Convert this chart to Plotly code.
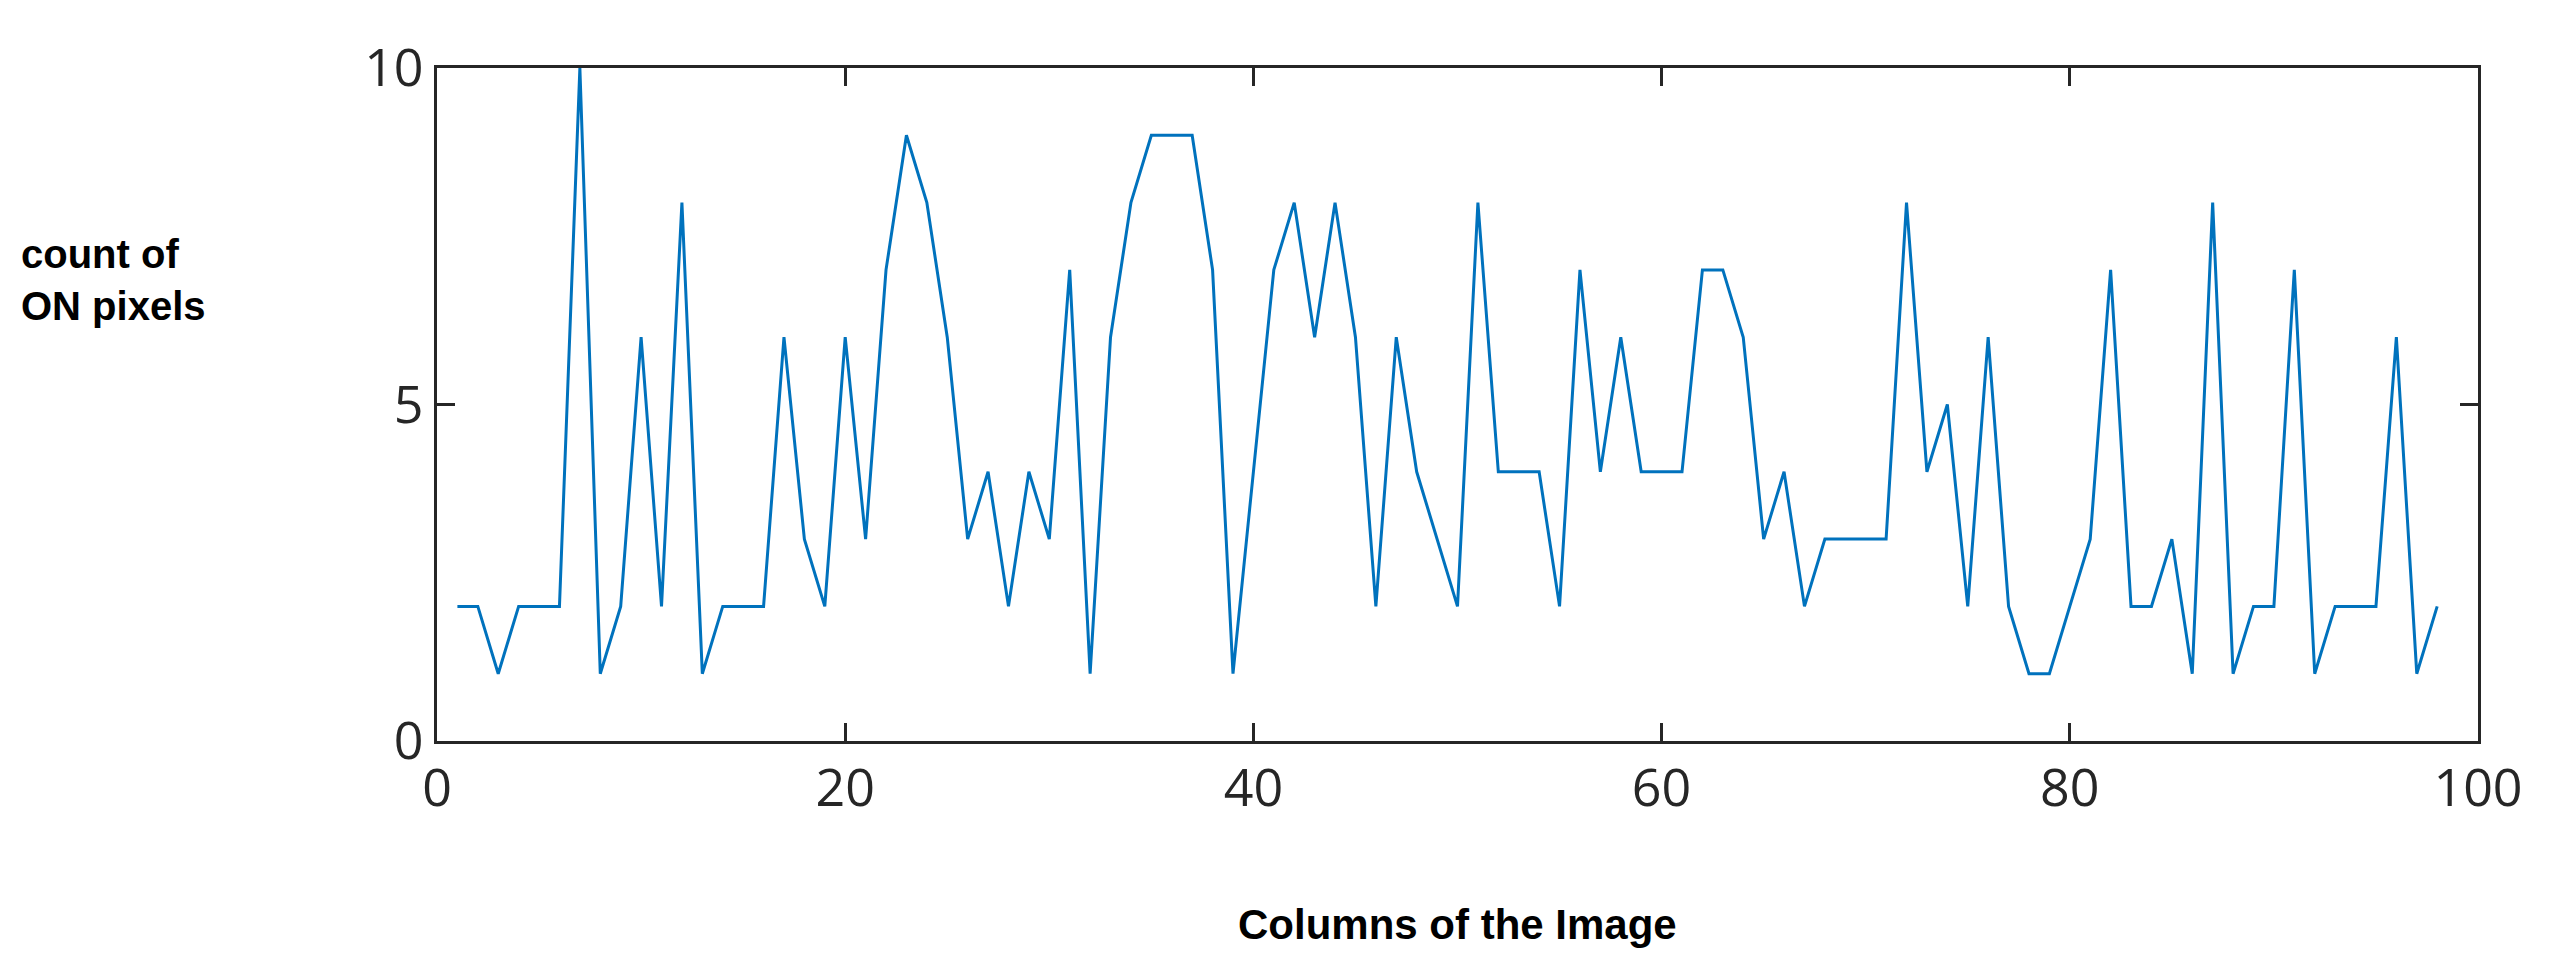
import plotly.graph_objects as go

# column index and ON-pixel count per column
columns = list(range(1, 99))
on_counts = [
    2, 2, 1, 2, 2, 2, 10, 1, 2, 6,
    2, 8, 1, 2, 2, 2, 6, 3, 2, 6,
    3, 7, 9, 8, 6, 3, 4, 2, 4, 3,
    7, 1, 6, 8, 9, 9, 9, 7, 1, 4,
    7, 8, 6, 8, 6, 2, 6, 4, 3, 2,
    8, 4, 4, 4, 2, 7, 4, 6, 4, 4,
    4, 7, 7, 6, 3, 4, 2, 3, 3, 3,
    3, 8, 4, 5, 2, 6, 2, 1, 1, 2,
    3, 7, 2, 2, 3, 1, 8, 1, 2, 2,
    7, 1, 2, 2, 2, 6, 1, 2,
]
x_ticks = [0, 20, 40, 60, 80, 100]
y_ticks = [0, 5, 10]

fig = go.Figure()
fig.add_trace(go.Scatter(
    x=columns, y=on_counts, mode="lines",
    line=dict(color="#0072BD", width=3),
))

axis_style = dict(
    showgrid=False, zeroline=False, showline=True, mirror="ticks",
    linecolor="#262626", linewidth=3, ticks="inside", ticklen=18,
    tickwidth=3, tickcolor="#262626",
    tickfont=dict(family="Open Sans", size=52, color="#262626"),
)
fig.update_xaxes(range=[0, 100], tickvals=x_ticks, **axis_style)
fig.update_yaxes(range=[0, 10], tickvals=y_ticks, **axis_style)

fig.add_annotation(
    text="<b>Columns of the Image</b>", xref="paper", yref="paper",
    x=0.5, y=-0.235, showarrow=False, yanchor="top",
    font=dict(family="Liberation Sans", size=42, color="black"),
)
fig.add_annotation(
    text="<b>count of<br>ON pixels</b>", xref="paper", yref="paper",
    x=-0.205, y=0.76, showarrow=False, xanchor="left", align="left",
    font=dict(family="Liberation Sans", size=40, color="black"),
)

fig.update_layout(
    width=2550, height=976,
    margin=dict(l=429, r=80, t=60, b=243),
    plot_bgcolor="white", paper_bgcolor="white",
    showlegend=False,
)
fig.write_html("out.html")
